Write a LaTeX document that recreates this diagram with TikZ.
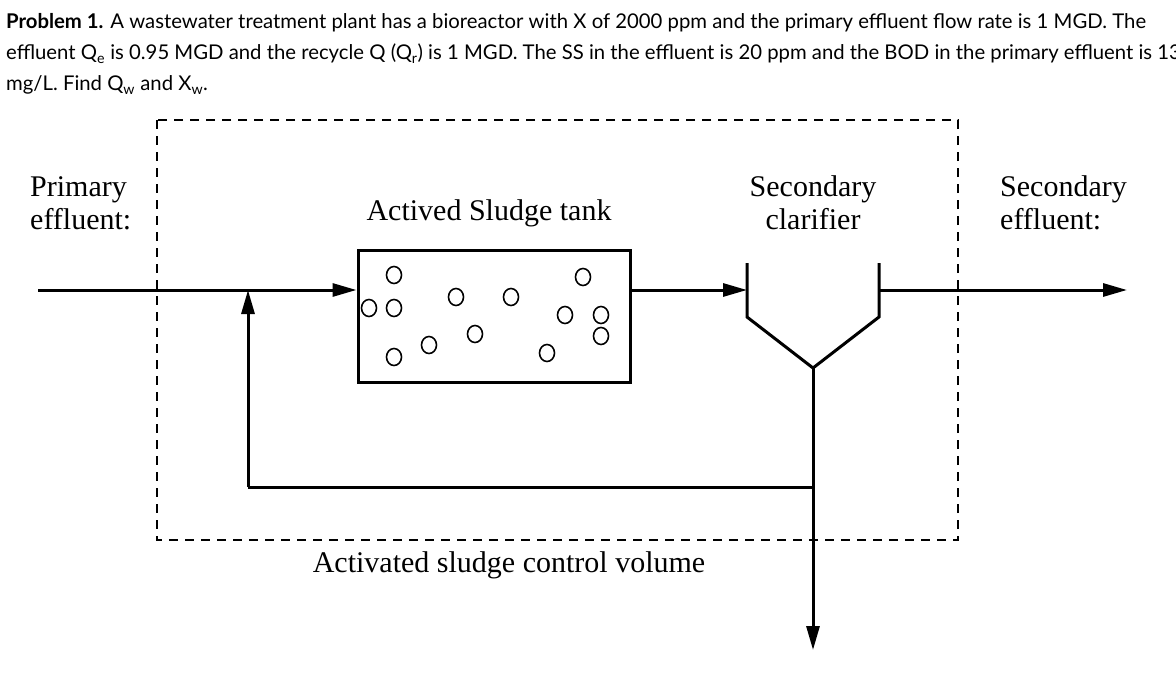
\documentclass[tikz,border=0pt]{standalone}
\usepackage{fontspec}
\setmainfont{Liberation Serif}
\newfontfamily\hdr{Lato}
\usetikzlibrary{arrows.meta,shapes.geometric}
\begin{document}
\begin{tikzpicture}[x=1pt,y=-1pt,
  flow/.style={line width=3pt,-{Triangle[length=24pt,width=13pt]}},
  pipe/.style={line width=3pt},
  bub/.style={draw,line width=1.6pt,ellipse,minimum width=15pt,minimum height=17pt,inner sep=0pt},
  hline/.style={anchor=base west,inner sep=0pt,font=\hdr\fontsize{20.3}{24}\selectfont},
  lab/.style={align=center,inner sep=0pt,font=\fontsize{30}{33}\selectfont}]
\useasboundingbox (0,0) rectangle (1176,677);
\node[hline] (h1) at (6,29) {\textbf{Problem 1.} A wastewater treatment plant has a bioreactor with X of 2000 ppm and the primary effluent flow rate is 1 MGD. The};
\node[hline] (h2) at (6,60) {effluent Q\textsubscript{e} is 0.95 MGD and the recycle Q (Q\textsubscript{r}) is 1 MGD. The SS in the effluent is 20 ppm and the BOD in the primary effluent is 130};
\node[hline] (h3) at (6,91) {mg/L. Find Q\textsubscript{w} and X\textsubscript{w}.};
\draw[dashed,line width=1.3pt,dash pattern=on 9pt off 7pt] (157,120) rectangle (958,540);
\node[lab,align=left,anchor=west] (pe) at (30,203) {Primary\\effluent:};
\node[lab] (tl) at (489,213) {Actived Sludge tank};
\node[lab] (sc) at (813,203) {Secondary\\clarifier};
\node[lab,align=left,anchor=west] (se) at (1000,203) {Secondary\\effluent:};
\node[lab] (cv) at (509,565) {Activated sludge control volume};
\node[draw,line width=3pt,minimum width=272pt,minimum height=132pt,inner sep=0pt] (tank) at (494,316) {};
\foreach \x/\y [count=\i] in {394/275,369/308,394/308,456/297,511/297,583/277,565/315,601/315,601/336,394/357,429/345,475/334,547/353}
  \node[bub] (b\i) at (\x,\y) {};
\coordinate (in) at (38,290);
\coordinate (cl) at (747,290);
\coordinate (cb) at (813,368);
\coordinate (cr) at (879,290);
\coordinate (out) at (1127,290);
\coordinate (rj) at (813,487);
\coordinate (rc) at (248,487);
\coordinate (rt) at (248,290);
\coordinate (wst) at (813,650);
\draw[flow] (in) -- (tank.west|-in);
\draw[flow] (tank.east|-in) -- (cl);
\draw[pipe,line join=miter] (747,263) -- (747,317) -- (cb) -- (879,317) -- (879,263);
\draw[flow] (cr) -- (out);
\draw[flow] (cb) -- (wst);
\draw[pipe] (rj) -- (rc);
\draw[flow] (rc) -- (rt);
\end{tikzpicture}
\end{document}
